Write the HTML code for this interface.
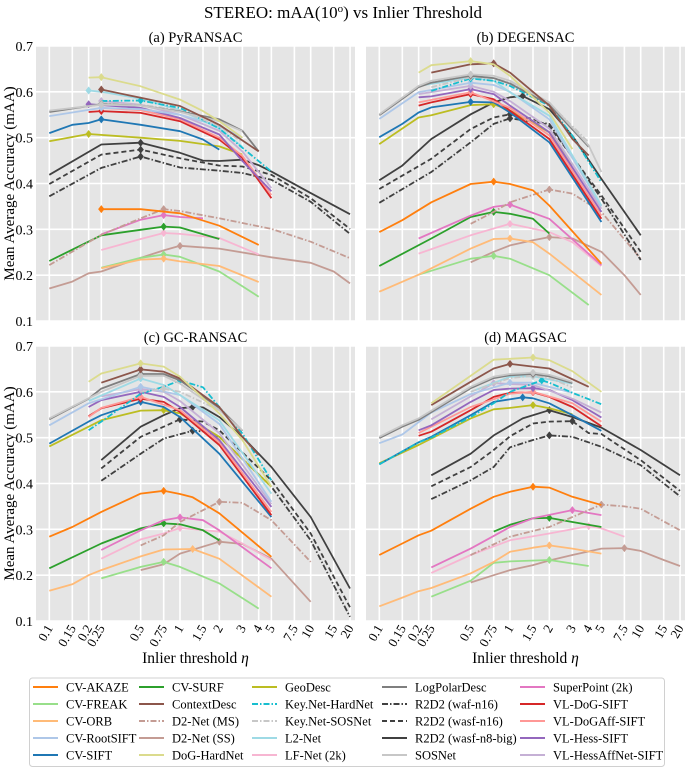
<!DOCTYPE html>
<html><head><meta charset="utf-8">
<style>
html,body{margin:0;padding:0;background:#fff;}
svg{display:block;font-family:"Liberation Serif",serif;}
</style></head>
<body>
<svg id="chart" width="685" height="768" viewBox="0 0 685 768" xmlns="http://www.w3.org/2000/svg">
<text x="343" y="18" text-anchor="middle" font-size="17">STEREO: mAA(10<tspan dy="-6" font-size="11">o</tspan><tspan dy="6">) vs Inlier Threshold</tspan></text>
<g id="panels"></g>
<g id="legend"></g>
</svg>
<script>
const seriesNames = ["CV-AKAZE","CV-FREAK","CV-ORB","CV-RootSIFT","CV-SIFT","CV-SURF","ContextDesc","D2-Net (MS)","D2-Net (SS)","DoG-HardNet","GeoDesc","Key.Net-HardNet","Key.Net-SOSNet","L2-Net","LF-Net (2k)","LogPolarDesc","R2D2 (waf-n16)","R2D2 (wasf-n16)","R2D2 (wasf-n8-big)","SOSNet","SuperPoint (2k)","VL-DoG-SIFT","VL-DoGAff-SIFT","VL-Hess-SIFT","VL-HessAffNet-SIFT"];
const xTicks = [0.1,0.15,0.2,0.25,0.5,0.75,1,1.5,2,3,4,5,7.5,10,15,20];
const xTickLabels = ["0.1","0.15","0.2","0.25","0.5","0.75","1","1.5","2","3","4","5","7.5","10","15","20"];
const yTicks = [0.1,0.2,0.3,0.4,0.5,0.6,0.7];
const yTickLabels = ["0.1","0.2","0.3","0.4","0.5","0.6","0.7"];
const panelTitles = ["(a) PyRANSAC","(b) DEGENSAC","(c) GC-RANSAC","(d) MAGSAC"];

const pyransac = [
[[.25,.344],[.5,.344],[1,.335],[2,.308],[4,.266]],
[[.25,.216],[.5,.238],[.75,.245],[1,.24],[2,.208],[4,.153]],
[[.25,.215],[.5,.234],[.75,.236],[1,.23],[2,.22],[4,.185]],
[[.1,.547],[.25,.565],[.5,.562],[1,.55],[2,.525],[3,.5]],
[[.1,.51],[.15,.528],[.2,.532],[.25,.54],[.5,.528],[1,.514],[1.5,.496],[2,.474]],
[[.1,.231],[.25,.287],[.5,.299],[.75,.306],[1,.304],[2,.279]],
[[.25,.605],[.5,.587],[1,.569],[2,.528],[4,.47]],
[[.1,.222],[.25,.288],[.5,.324],[.75,.344],[1,.34],[2,.324],[5,.301],[10,.273],[20,.237]],
[[.1,.171],[.15,.186],[.2,.204],[.25,.208],[.5,.238],[.75,.254],[1,.264],[2,.258],[5,.239],[10,.227],[15,.208],[20,.182]],
[[.2,.631],[.25,.632],[.5,.612],[1,.583],[1.5,.558],[2,.536],[3,.5]],
[[.1,.492],[.2,.508],[.5,.5],[1,.493],[2,.481],[3,.463]],
[[.25,.58],[.5,.581],[1,.565],[2,.52],[3,.478],[5,.426]],
[[.25,.575],[.5,.572],[1,.56],[2,.525],[3,.49]],
[[.2,.603],[.25,.6],[.5,.585],[1,.56],[2,.52],[3,.48]],
[[.25,.255],[.5,.279],[.75,.292],[1,.29],[2,.281],[4,.245]],
[[.1,.556],[.25,.573],[.5,.57],[1,.557],[2,.54],[3,.515],[4,.47]],
[[.1,.372],[.25,.434],[.5,.459],[1,.435],[2,.428],[3,.423],[5,.408],[10,.36],[20,.29]],
[[.1,.399],[.25,.463],[.5,.474],[1,.455],[2,.439],[3,.437],[5,.419],[10,.368],[20,.301]],
[[.1,.419],[.25,.485],[.5,.489],[1,.467],[1.5,.45],[2,.449],[3,.452],[4,.44],[5,.426],[10,.379],[20,.333]],
[[.1,.559],[.25,.572],[.5,.57],[1,.556],[2,.536],[3,.514]],
[[.25,.289],[.5,.321],[.75,.331],[1,.327],[1.5,.324]],
[[.2,.556],[.25,.558],[.5,.554],[1,.536],[2,.496],[3,.456],[5,.368]],
[[.25,.565],[.5,.56],[1,.54],[2,.5],[3,.46],[5,.375]],
[[.2,.573],[.25,.571],[.5,.565],[1,.543],[2,.507],[3,.449],[5,.383]],
[[.25,.58],[.5,.572],[1,.55],[2,.515],[3,.47],[5,.39]]
];
const degensac = [
[[.1,.294],[.15,.32],[.25,.359],[.5,.399],[.75,.404],[1,.399],[1.5,.385],[2,.352],[5,.225]],
[[.2,.201],[.5,.236],[.75,.242],[1,.236],[2,.2],[4,.135]],
[[.1,.164],[.2,.201],[.5,.258],[.75,.279],[1,.28],[1.5,.272],[2,.247],[5,.157]],
[[.1,.541],[.2,.599],[.5,.62],[.75,.615],[1,.6],[2,.54],[5,.35]],
[[.1,.501],[.15,.53],[.2,.555],[.25,.566],[.5,.578],[.75,.577],[1,.555],[2,.49],[5,.316]],
[[.1,.22],[.25,.28],[.5,.327],[.75,.338],[1,.334],[1.5,.323],[2,.291]],
[[.25,.642],[.5,.66],[.75,.662],[1,.642],[2,.57],[3,.497],[4,.461]],
[[.5,.312],[.75,.338],[1,.359],[2,.387],[3,.378],[5,.338],[10,.236]],
[[.5,.228],[.75,.251],[1,.265],[1.5,.276],[2,.283],[3,.28],[5,.251],[7.5,.2],[10,.157]],
[[.2,.642],[.25,.658],[.5,.667],[.75,.66],[1,.635],[2,.555],[3,.475]],
[[.1,.486],[.2,.544],[.25,.549],[.5,.571],[.75,.573],[1,.559],[2,.512],[3,.44]],
[[.25,.602],[.5,.629],[.75,.624],[1,.613],[2,.57],[3,.504],[5,.403]],
[[.25,.61],[.5,.632],[.75,.63],[1,.62],[2,.575],[4,.49]],
[[.2,.613],[.5,.631],[.75,.624],[1,.599],[2,.548],[5,.352]],
[[.2,.247],[.5,.287],[1,.312],[2,.294],[3,.272],[5,.22]],
[[.1,.549],[.2,.61],[.25,.62],[.5,.635],[.75,.63],[1,.618],[2,.572],[4,.48]],
[[.1,.358],[.25,.425],[.5,.49],[.75,.53],[1,.542],[2,.53],[5,.367],[10,.233]],
[[.1,.388],[.25,.454],[.5,.519],[.75,.544],[1,.551],[1.5,.541],[2,.525],[5,.374],[10,.251]],
[[.1,.407],[.15,.439],[.25,.497],[.5,.551],[.75,.577],[1,.588],[1.25,.591],[2,.562],[3,.504],[5,.41],[10,.287]],
[[.1,.551],[.2,.613],[.25,.624],[.5,.638],[.75,.635],[1,.624],[2,.577],[4,.483],[5,.425]],
[[.2,.28],[.5,.33],[.75,.349],[1,.354],[2,.323],[5,.222]],
[[.2,.57],[.25,.577],[.5,.595],[.75,.584],[1,.559],[2,.497],[5,.323]],
[[.2,.577],[.5,.599],[1,.565],[2,.505],[5,.33]],
[[.2,.588],[.25,.59],[.5,.606],[.75,.595],[1,.57],[2,.512],[5,.338]],
[[.2,.595],[.5,.613],[.75,.6],[1,.58],[2,.52],[5,.345]]
];
const gcransac = [
[[.1,.284],[.15,.305],[.25,.338],[.5,.378],[.75,.384],[1,.377],[1.25,.37],[2,.335],[5,.24]],
[[.25,.193],[.5,.218],[.75,.229],[1,.218],[2,.182],[4,.127]],
[[.1,.166],[.15,.18],[.2,.2],[.25,.211],[.5,.241],[.75,.256],[1.25,.257],[2,.236],[5,.153]],
[[.1,.527],[.2,.575],[.5,.611],[1,.593],[2,.53],[5,.36]],
[[.1,.487],[.2,.535],[.25,.549],[.5,.578],[.75,.567],[1,.545],[2,.465],[5,.327]],
[[.1,.215],[.25,.269],[.5,.302],[.75,.313],[1,.311],[1.5,.298],[2,.276]],
[[.25,.62],[.5,.649],[.75,.644],[1,.629],[2,.567],[3,.502],[4,.462]],
[[.5,.265],[.75,.287],[1,.316],[2,.36],[3,.358],[5,.32],[10,.229]],
[[.5,.211],[.75,.224],[1,.247],[2,.273],[3,.268],[5,.236],[10,.142]],
[[.2,.622],[.25,.64],[.5,.662],[.75,.655],[1,.633],[2,.553],[3,.495],[5,.393]],
[[.1,.481],[.2,.524],[.25,.538],[.5,.559],[.75,.56],[1,.553],[2,.502],[5,.393]],
[[.2,.516],[.25,.535],[.5,.596],[.75,.611],[1,.625],[1.5,.61],[2,.567],[3,.509],[5,.407]],
[[.5,.6],[.75,.607],[1,.6],[2,.56],[3,.515]],
[[.2,.58],[.5,.629],[.75,.615],[1,.593],[2,.538],[5,.378]],
[[.25,.236],[.5,.278],[.75,.291],[1,.303],[2,.295],[3,.269],[5,.233]],
[[.1,.54],[.2,.585],[.25,.607],[.5,.639],[.75,.639],[1,.625],[2,.565],[3,.515]],
[[.25,.406],[.5,.465],[.75,.498],[1.25,.515],[1.5,.514],[2,.502],[5,.393],[10,.276],[20,.109]],
[[.25,.433],[.5,.502],[.75,.524],[1,.54],[1.5,.535],[2,.516],[5,.407],[10,.291],[20,.13]],
[[.25,.451],[.5,.524],[.75,.549],[1,.564],[1.25,.567],[1.5,.566],[2,.545],[3,.502],[5,.436],[10,.327],[20,.171]],
[[.1,.542],[.25,.6],[.5,.635],[.75,.635],[1,.618],[2,.56],[3,.516]],
[[.25,.255],[.5,.298],[.75,.32],[1,.326],[1.5,.32],[2,.298],[5,.215]],
[[.2,.547],[.25,.564],[.5,.585],[.75,.578],[1,.556],[2,.484],[5,.331]],
[[.2,.545],[.25,.565],[.5,.589],[1,.56],[2,.49],[5,.338]],
[[.2,.567],[.25,.582],[.5,.6],[.75,.589],[1,.567],[2,.495],[5,.349]],
[[.25,.59],[.5,.606],[.75,.6],[1,.58],[2,.51],[5,.355]]
];
const magsac = [
[[.1,.244],[.15,.269],[.2,.287],[.25,.297],[.5,.345],[.75,.371],[1,.382],[1.5,.393],[2,.391],[3,.371],[5,.353]],
[[.25,.153],[.5,.188],[.75,.227],[1,.23],[2,.233],[4,.22]],
[[.1,.132],[.15,.151],[.2,.165],[.25,.172],[.5,.204],[.75,.229],[1,.251],[1.5,.26],[2,.265],[3,.258],[5,.247]],
[[.1,.488],[.15,.507],[.25,.555],[.5,.595],[1,.62],[1.5,.62],[3,.598]],
[[.1,.442],[.2,.49],[.25,.502],[.5,.549],[.75,.578],[1.25,.588],[1.5,.586],[2,.575],[3,.549],[5,.515]],
[[.75,.295],[1,.31],[1.5,.324],[2,.325],[3,.316],[5,.305]],
[[.25,.571],[.5,.622],[.75,.651],[1,.661],[1.5,.655],[2,.651],[4,.611]],
[[.5,.244],[1,.284],[2,.305],[3,.327],[5,.354],[7.5,.35],[10,.345],[20,.298]],
[[.5,.184],[.75,.2],[1,.211],[1.5,.222],[2,.232],[3,.244],[5,.258],[7.5,.259],[10,.253],[15,.233],[20,.22]],
[[.25,.575],[.75,.67],[1,.672],[1.5,.675],[2,.669],[3,.645],[5,.6]],
[[.1,.444],[.2,.484],[.25,.498],[.5,.542],[.75,.562],[1,.565],[1.5,.571],[2,.564],[3,.551]],
[[.1,.442],[.2,.49],[.25,.5],[.5,.545],[.75,.575],[1,.6],[1.75,.625],[2,.62],[3,.598],[5,.573]],
[[.5,.6],[1,.63],[1.5,.635],[2,.63],[3,.61]],
[[.5,.6],[1,.633],[1.5,.634],[2,.627],[3,.618]],
[[.25,.205],[.5,.244],[1,.276],[2,.291],[4,.307],[5,.302],[7.5,.284]],
[[.1,.499],[.15,.524],[.2,.539],[.5,.608],[.75,.63],[1,.636],[1.5,.639],[2,.634],[3,.619]],
[[.25,.366],[.5,.407],[.75,.436],[1,.479],[1.5,.495],[2,.505],[3,.502],[5,.48],[10,.44],[20,.372]],
[[.25,.394],[.5,.436],[.75,.473],[1,.503],[1.5,.531],[2,.535],[3,.536],[4,.51],[5,.508],[10,.451],[20,.384]],
[[.25,.418],[.5,.465],[.75,.505],[1.25,.542],[2,.56],[3,.545],[5,.522],[10,.473],[20,.418]],
[[.1,.502],[.15,.527],[.2,.542],[.5,.611],[.75,.633],[1,.639],[1.5,.642],[2,.637],[3,.622]],
[[.25,.217],[.5,.258],[1,.305],[1.5,.324],[3,.342],[5,.331]],
[[.2,.504],[.25,.513],[.5,.56],[.75,.589],[1,.598],[1.5,.599],[2,.589],[3,.567],[5,.525]],
[[.2,.51],[.5,.567],[1,.596],[1.5,.6],[3,.575],[5,.535]],
[[.2,.516],[.25,.527],[.5,.578],[.75,.604],[1,.607],[1.5,.608],[2,.604],[3,.582],[5,.544]],
[[.25,.54],[.5,.59],[.75,.619],[1,.617],[1.5,.615],[3,.585],[5,.555]]
];
const panelData = [pyransac, degensac, gcransac, magsac];

// styles (not data)
const colors = ["#ff7f0e","#98df8a","#ffbb78","#aec7e8","#1f77b4","#2ca02c","#8c564b","#c49c94","#c49c94","#dbdb8d","#bcbd22","#17becf","#c7c7c7","#9edae5","#f7b6d2","#7f7f7f","#404040","#404040","#404040","#c7c7c7","#e377c2","#d62728","#ff9896","#9467bd","#c5b0d5"];
const dashes = {7:"6 2 1.5 2",11:"6 2 1.5 2",12:"6 2 1.5 2",16:"6 2 1.5 2",17:"5 3"};
const drawOrder = [8,1,2,14,5,20,7,0,16,17,18,10,4,21,22,23,24,3,13,11,12,15,19,6,9];

const NS = "http://www.w3.org/2000/svg";
function mk(tag, attrs, parent){const e=document.createElementNS(NS,tag);for(const k in attrs)e.setAttribute(k,attrs[k]);parent.appendChild(e);return e;}
const panelGeo = [{x0:36,y0:46},{x0:366,y0:46},{x0:36,y0:346},{x0:366,y0:346}];
const W=319, H=275;
function xScale(g,v){return g.x0+13.3+(Math.log10(v)+1)*130.7;}
function yScale(g,v){return g.y0+H-(v-0.1)/0.6*H;}

const panelsG=document.getElementById("panels");
panelGeo.forEach((g,pi)=>{
  const pg=mk("g",{},panelsG);
  
  
  const bg=mk("rect",{x:g.x0,y:g.y0,width:W,height:H,fill:"#e5e5e5"},pg);
  
  
  yTicks.forEach((t,i)=>{
    const y=yScale(g,t);
    const gl=mk("line",{x1:g.x0,x2:g.x0+W,y1:y,y2:y,stroke:"#fff","stroke-width":1.6},pg);
    
    
    if(pi%2===0){
      const tl=mk("text",{x:g.x0-3,y:y+5,"text-anchor":"end","font-size":14},pg);
      tl.textContent=yTickLabels[i];
      
      
    }
  });
  xTicks.forEach((t,i)=>{
    const x=xScale(g,t);
    const gl=mk("line",{x1:x,x2:x,y1:g.y0,y2:g.y0+H,stroke:"#fff","stroke-width":1.6},pg);
    
    
    if(pi>=2){
      const tl=mk("text",{transform:`translate(${x+4},${g.y0+H+7}) rotate(-60)`,"text-anchor":"end","font-size":13},pg);
      tl.textContent=xTickLabels[i];
      
      
    }
  });
  const st=mk("text",{x:g.x0+W/2,y:g.y0-4,"text-anchor":"middle","font-size":14.5},pg);
  st.textContent=panelTitles[pi];
  
  
  if(pi%2===0){
    const yt=mk("text",{transform:`translate(14,${g.y0+H/2}) rotate(-90)`,"text-anchor":"middle","font-size":15},pg);
    yt.textContent="Mean Average Accuracy (mAA)";
    
    
  }
  if(pi>=2){
    const xt=mk("text",{x:g.x0+W/2,y:663,"text-anchor":"middle","font-size":15.5},pg);
    xt.innerHTML='Inlier threshold <tspan font-style="italic">η</tspan>';
    
    
  }
  const data=panelData[pi];
  drawOrder.forEach(si=>{
    const pts=data[si];
    const d=pts.map((p,k)=>(k?"L":"M")+xScale(g,p[0]).toFixed(1)+","+yScale(g,p[1]).toFixed(1)).join("");
    const attrs={d:d,fill:"none",stroke:colors[si],"stroke-width":1.8,"stroke-linejoin":"round"};
    if(dashes[si])attrs["stroke-dasharray"]=dashes[si];
    const ln=mk("path",attrs,pg);
    
    
    let best=pts[0];pts.forEach(p=>{if(p[1]>best[1])best=p;});
    const mx=xScale(g,best[0]),my=yScale(g,best[1]);
    const mkr=mk("path",{d:`M${mx},${my-4}L${mx+3.2},${my}L${mx},${my+4}L${mx-3.2},${my}Z`,fill:colors[si]},pg);
    
    
  });
});

// legend
const lg=document.getElementById("legend");
mk("rect",{x:29.5,y:678,width:635,height:88.5,rx:3,fill:"#fff",stroke:"#d0d0d0","stroke-width":1},lg);
const colText=[66,172,285,415,553];
seriesNames.forEach((n,si)=>{
  const c=Math.floor(si/5), r=si%5;
  const y=687+r*17;
  const tx=colText[c];
  const eg=mk("g",{},lg);
  
  
  const a={x1:tx-33,x2:tx-8,y1:y,y2:y,stroke:colors[si],"stroke-width":2};
  if(dashes[si])a["stroke-dasharray"]=dashes[si];
  mk("line",a,eg);
  const t=mk("text",{x:tx,y:y+4.5,"font-size":12.5},eg);
  t.textContent=n;
});
</script>
</body></html>
